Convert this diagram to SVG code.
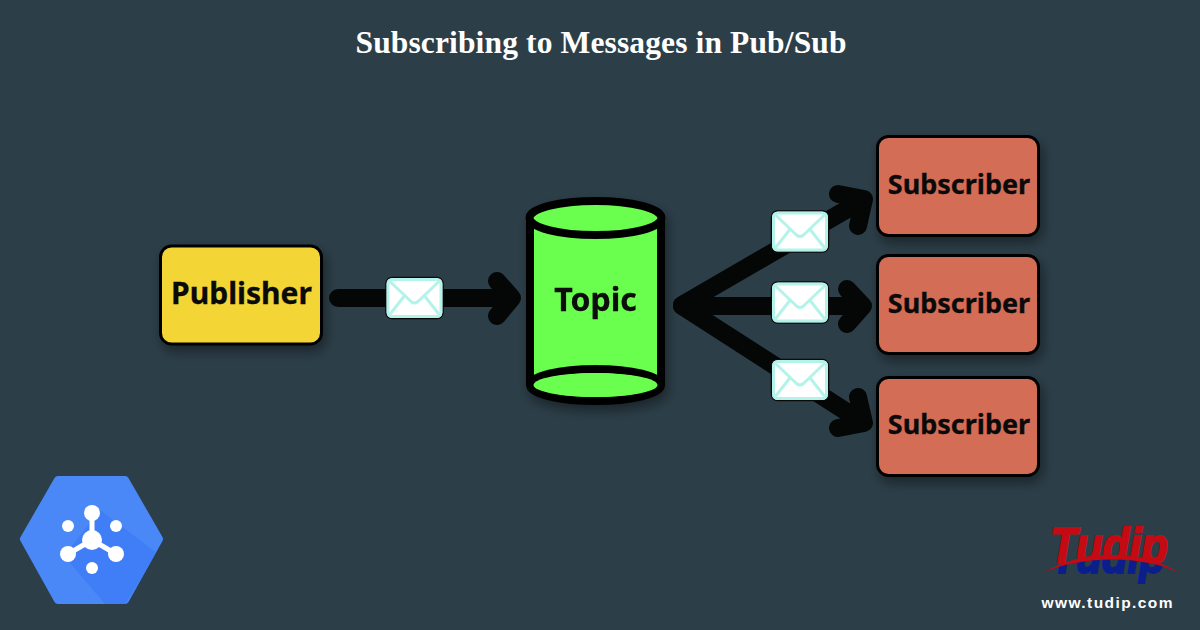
<svg xmlns="http://www.w3.org/2000/svg" width="1200" height="630" viewBox="0 0 1200 630">
<style>
.box{stroke:#050505;stroke-width:3}
.lab{font-family:"Noto Sans","Open Sans",sans-serif;font-weight:700;fill:#0a0a0a;text-anchor:middle;stroke:#0a0a0a;stroke-width:.3px}
.arr{fill:none;stroke:#050706;stroke-width:18;stroke-linecap:round;stroke-linejoin:round}
.env-b{fill:#fff;stroke:#0a0a0a;stroke-width:1.500}
.env-l{fill:none;stroke:#b4f3ea;stroke-width:3;stroke-linejoin:round}
.tud{font-family:"Liberation Sans",sans-serif;font-weight:700;font-style:italic;font-size:50px;stroke-width:2px}
</style>
<defs>
<filter id="sh" x="-20%" y="-20%" width="140%" height="140%"><feDropShadow dx="3" dy="6" stdDeviation="6" flood-color="#000" flood-opacity=".4"/></filter>
<g id="env">
<rect class="env-b" x="0" y="0" width="57" height="41" rx="6"/>
<rect class="env-l" x="2" y="2" width="53" height="37" rx="4"/>
<path class="env-l" d="M3 3L25 24Q28.500 27 32 24L54 3M3 38L18 19M54 38L39 19"/>
</g>
<clipPath id="hex"><polygon points="20,539 55,476 128,476 163,539 128,604 55,604"/></clipPath>
<clipPath id="above"><path d="M1040 520H1180V573C1145 551 1080 551 1043 573Z"/></clipPath>
<clipPath id="below"><path d="M1043 573C1080 551 1145 551 1179 573V592H1043Z"/></clipPath>
</defs>
<rect width="1200" height="630" fill="#2c3e48"/>
<text x="601" y="52.500" text-anchor="middle" font-family="'Liberation Serif',serif" font-weight="700" font-size="31.500" fill="#fff" textLength="491">Subscribing to Messages in Pub/Sub</text>

<g id="connectors">
<path class="arr" d="M338 298H512M497 281L512 298L497 316"/>
<path class="arr" d="M682 305L863 200M838 194L864 199L858 226"/>
<path class="arr" d="M682 306H863M847 289L863 306L847 324"/>
<path class="arr" d="M682 306L864 423M838 428L864 423L858 397"/>
</g>

<g id="publisher"><rect class="box" x="160.500" y="246" width="161" height="98" rx="11" fill="#f3d534" filter="url(#sh)"/><text class="lab" x="241.500" y="304" font-size="30">Publisher</text></g>

<g id="topic" filter="url(#sh)">
<path d="M530 218V385A65 16 0 0 0 661 385V218Z" fill="#6bff50" stroke="#050505" stroke-width="8"/>
<ellipse cx="595.500" cy="218" rx="66" ry="17" fill="#6bff50" stroke="#050505" stroke-width="8"/>
<path d="M530 385A65 16 0 0 1 661 385" fill="none" stroke="#050505" stroke-width="8"/>
<ellipse cx="595.500" cy="385" rx="62" ry="12" fill="#6bff50"/>
<text class="lab" x="595.500" y="311" font-size="32">Topic</text>
</g>

<g id="subscriber1"><rect class="box" x="877.500" y="136.500" width="161" height="99" rx="11" fill="#d36d54" filter="url(#sh)"/><text class="lab" x="959" y="194" font-size="27">Subscriber</text></g>
<g id="subscriber2"><rect class="box" x="877.500" y="255.500" width="161" height="98" rx="11" fill="#d36d54" filter="url(#sh)"/><text class="lab" x="959" y="313" font-size="27">Subscriber</text></g>
<g id="subscriber3"><rect class="box" x="877.500" y="377.500" width="161" height="98" rx="11" fill="#d36d54" filter="url(#sh)"/><text class="lab" x="959" y="434" font-size="27">Subscriber</text></g>

<g id="envelopes">
<use href="#env" x="386" y="277.500"/>
<use href="#env" x="771.500" y="211"/>
<use href="#env" x="771.500" y="282"/>
<use href="#env" x="771.500" y="359.500"/>
</g>

<g id="pubsub-logo">
<polygon points="24,539 58,480 125,480 159,539 125,600 58,600" fill="#4a88f7" stroke="#4a88f7" stroke-width="8" stroke-linejoin="round"/>
<g clip-path="url(#hex)"><polygon points="100,510 157,553 125,604 105,604 64,556" fill="#3f7ef6"/></g>
<g fill="#fff" stroke="#fff">
<path d="M92 540V513M92 540L68 554M92 540L116 554" stroke-width="5" fill="none"/>
<g stroke="none">
<circle cx="92" cy="540" r="10"/><circle cx="92" cy="513" r="8"/><circle cx="68" cy="554" r="8"/><circle cx="116" cy="554" r="8"/>
<circle cx="68" cy="526" r="6"/><circle cx="116" cy="526" r="6"/><circle cx="92" cy="568" r="6"/>
</g></g>
</g>

<g id="tudip-logo">
<g clip-path="url(#below)"><text class="tud" x="1051" y="573" fill="#0b1f8c" stroke="#0b1f8c" textLength="114" lengthAdjust="spacingAndGlyphs">Tudip</text></g>
<g clip-path="url(#above)"><text class="tud" x="1050" y="563" fill="#c40a12" stroke="#c40a12" textLength="118" lengthAdjust="spacingAndGlyphs">Tudip</text></g>
<path d="M1043 573C1080 549 1145 549 1179 573C1145 555 1080 555 1043 573Z" fill="#c40a12"/>
<text x="1107" y="608" text-anchor="middle" font-family="'Liberation Sans',sans-serif" font-weight="700" font-size="15.500" fill="#fff" textLength="131">www.tudip.com</text>
</g>
</svg>
